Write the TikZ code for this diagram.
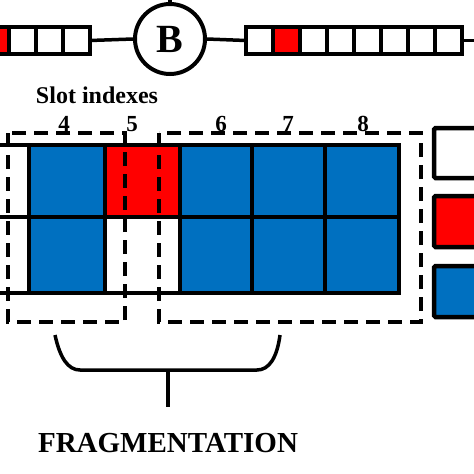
\documentclass[tikz,border=0pt]{standalone}
\usepackage{fontspec}
\setmainfont{Liberation Serif}
\definecolor{cblue}{RGB}{0,112,192}
\definecolor{cred}{RGB}{255,0,0}
\begin{document}
\begin{tikzpicture}[x=1pt,y=-1pt,
  strip/.style={draw=black,line width=3.5pt},
  grid/.style={draw=black,line width=4.8pt},
  frame/.style={draw=black,line width=3.5pt,dash pattern=on 14pt off 8pt},
  wire/.style={draw=black,line width=3.5pt},
  lbl/.style={font=\bfseries\fontsize{23}{23}\selectfont,inner sep=0pt},
  legend/.style={draw=black,line width=4.5pt,rounded corners=1.5pt}]
\useasboundingbox (0,0) rectangle (474,474);
% top strips
\fill[cred] (-18,27) rectangle (9,54);
\foreach \i in {-18,9,36,63} \draw[strip] (\i,27) rectangle ++(27,27);
\fill[cred] (273,27) rectangle (300,54);
\foreach \k in {0,...,7} \draw[strip] (246+27*\k,27) rectangle ++(27,27);
\coordinate (lend) at (90,40.5);
\coordinate (rstart) at (246,40.5);
\coordinate (rend) at (462,40.5);
\coordinate (redge) at (476,40.5);
\coordinate (tedge) at (170,-2);
\node[circle,draw=black,line width=4pt,minimum size=70pt,inner sep=0pt,
  font=\bfseries\fontsize{40}{40}\selectfont] (B) at (170,39) {B};
\draw[wire] (lend) -- (B.west);
\draw[wire] (B.east) -- (rstart);
\draw[wire] (rend) -- (redge);
\draw[wire] (B.north) -- (tedge);
% labels
\node[font=\bfseries\fontsize{24}{24}\selectfont,inner sep=0pt] (slot) at (97,95) {Slot indexes};
\node[lbl] (n4) at (64,124) {4};
\node[lbl] (n5) at (132,124) {5};
\node[lbl] (n6) at (221,124) {6};
\node[lbl] (n7) at (288,124) {7};
\node[lbl] (n8) at (363,124) {8};
% grid cells
\fill[cblue] (29,145) rectangle (105,217);
\fill[cred] (105,145) rectangle (180,217);
\fill[cblue] (180,145) rectangle (399,217);
\fill[cblue] (29,217) rectangle (105,293);
\fill[cblue] (180,217) rectangle (399,293);
\draw[grid] (-5,145) -- (399,145) -- (399,293) -- (-5,293);
\draw[grid] (-5,217) -- (399,217);
\foreach \x in {29,105,180,252,325} \draw[grid] (\x,145) -- (\x,293);
% dashed frames
\draw[frame] (8,133) rectangle (125,322);
\draw[frame] (159,133) rectangle (421,322);
% legend
\draw[legend,fill=white] (434,128) rectangle (484,178);
\draw[legend,fill=cred] (434,196) rectangle (484,247);
\draw[legend,fill=cblue] (434,266) rectangle (484,317);
% brace
\coordinate (bl) at (55,335);
\coordinate (br) at (280,335);
\coordinate (bm) at (168,370);
\coordinate (bs) at (168,407);
\draw[wire] (bl) .. controls (60,358) and (68,370) .. (80,370) -- (257,370) .. controls (269,370) and (277,358) .. (br);
\draw[wire] (bm) -- (bs);
\node[font=\bfseries\fontsize{29}{29}\selectfont,inner sep=0pt] (frag) at (168,443) {FRAGMENTATION};
\end{tikzpicture}
\end{document}
